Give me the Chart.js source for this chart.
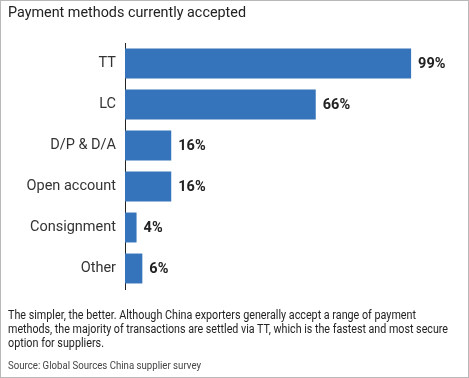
<!DOCTYPE html>
<html>
<head>
<meta charset="utf-8">
<script src="https://cdn.jsdelivr.net/npm/chart.js@4/dist/chart.umd.min.js"></script>
<style>
  html, body { margin: 0; padding: 0; background: #fff; }
  #wrap { position: relative; width: 469px; height: 378px; box-sizing: border-box; border: 1px solid #b8b8b8; font-family: Roboto, sans-serif; overflow: hidden; }
  .t { position: absolute; left: 7px; white-space: nowrap; transform-origin: 0 0; }
  #title { top: 2px; font-size: 15.5px; color: #222; }
  #cv { position: absolute; left: -1px; top: -1px; }
  .n { font-size: 12.5px; line-height: 14px; color: #222; }
  #n1 { top: 307px; } #n2 { top: 321px; } #n3 { top: 335px; }
  #src { top: 358px; font-size: 11px; color: #444; }
</style>
</head>
<body>
<div id="wrap">
  <canvas id="cv" width="469" height="378"></canvas>
  <div id="title" class="t" data-w="238">Payment methods currently accepted</div>
  <div id="n1" class="t n" data-w="408">The simpler, the better. Although China exporters generally accept a range of payment</div>
  <div id="n2" class="t n" data-w="440">methods, the majority of transactions are settled via TT, which is the fastest and most secure</div>
  <div id="n3" class="t n" data-w="96">option for suppliers.</div>
  <div id="src" class="t" data-w="193">Source: Global Sources China supplier survey</div>
</div>
<script>
const categories = ["TT", "LC", "D/P & D/A", "Open account", "Consignment", "Other"];
const values = [99, 66, 16, 16, 4, 6];
const valueLabels = ["99%", "66%", "16%", "16%", "4%", "6%"];

function fitTexts() {
  document.querySelectorAll('.t').forEach(el => {
    const target = parseFloat(el.dataset.w);
    const w = el.getBoundingClientRect().width;
    if (w > 0) el.style.transform = 'scaleX(' + (target / w) + ')';
  });
}
fitTexts();
if (document.fonts && document.fonts.ready) document.fonts.ready.then(() => { document.querySelectorAll('.t').forEach(e => e.style.transform = ''); fitTexts(); });

const labelPlugin = {
  id: 'valueLabels',
  afterDatasetsDraw(chart) {
    const ctx = chart.ctx;
    const meta = chart.getDatasetMeta(0);
    ctx.save();
    ctx.font = 'bold 14.5px Roboto, sans-serif';
    ctx.fillStyle = '#222';
    ctx.textBaseline = 'middle';
    ctx.textAlign = 'left';
    meta.data.forEach((bar, i) => {
      ctx.fillText(valueLabels[i], bar.x + 7, bar.y + 1);
    });
    ctx.restore();
  }
};

new Chart(document.getElementById('cv'), {
  type: 'bar',
  data: {
    labels: categories,
    datasets: [{
      data: values,
      backgroundColor: '#3573ba',
      borderWidth: 0,
      barPercentage: 0.73,
      categoryPercentage: 1.0
    }]
  },
  options: {
    indexAxis: 'y',
    responsive: false,
    animation: false,
    devicePixelRatio: 1,
    layout: { padding: { top: 43, bottom: 89, left: 0, right: 55 } },
    plugins: { legend: { display: false }, tooltip: { enabled: false }, title: { display: false } },
    scales: {
      x: { display: false, min: 0, max: 100 },
      y: {
        afterFit(s) { s.width = 125; },
        grid: { display: false, drawTicks: false },
        border: { display: true, color: '#222', width: 1 },
        ticks: { color: '#333', padding: 9, font: { family: 'Roboto, sans-serif', size: 14.5 } }
      }
    }
  },
  plugins: [labelPlugin]
});
</script>
</body>
</html>
